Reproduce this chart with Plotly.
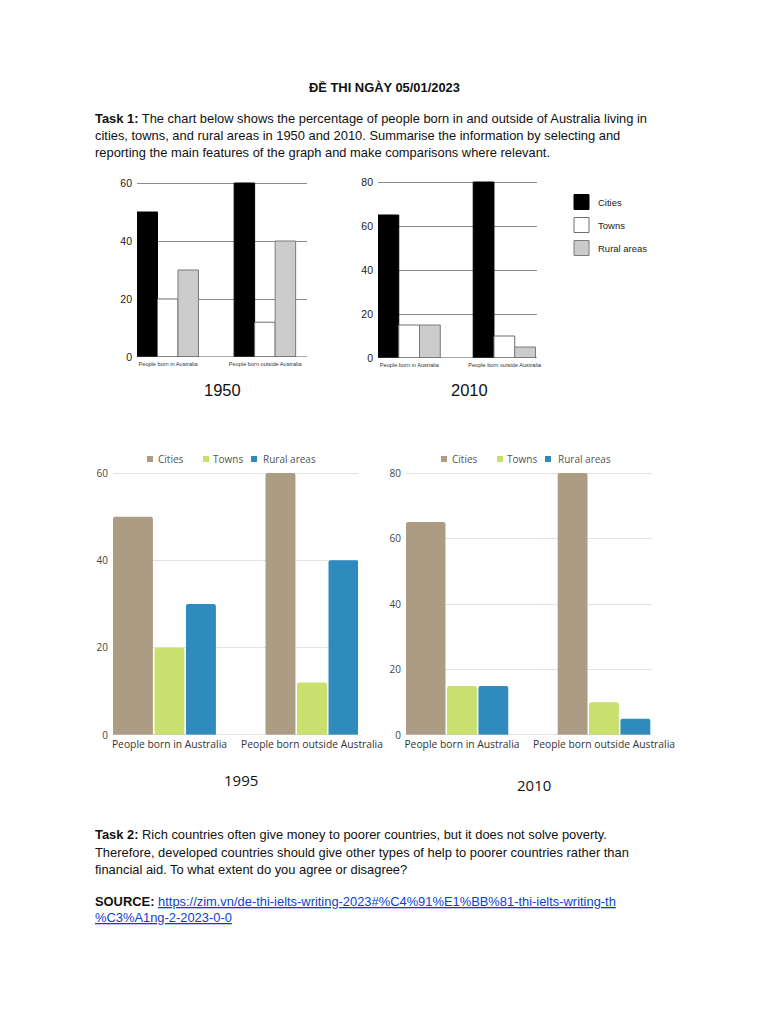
import plotly.graph_objects as go

W, H = 768, 1024
def px(x): return x / W
def py(y): return 1 - y / H

# ---------------- data ----------------
categories = ["People born in Australia", "People born outside Australia"]
series_names = ["Cities", "Towns", "Rural areas"]

cities_1950 = [50, 60]
towns_1950 = [20, 12]
rural_1950 = [30, 40]

cities_2010_bw = [65, 80]
towns_2010_bw = [15, 10]
rural_2010_bw = [15, 5]

cities_1995 = [50, 60]
towns_1995 = [20, 12]
rural_1995 = [30, 40]

cities_2010 = [65, 80]
towns_2010 = [15, 10]
rural_2010 = [15, 5]

bw_ticks_1950 = [0, 20, 40, 60]
bw_ticks_2010 = [0, 20, 40, 60, 80]
col_ticks_1995 = [0, 20, 40, 60]
col_ticks_2010 = [0, 20, 40, 60, 80]

fig = go.Figure()

# ---------------- BW charts ----------------
bw_fill = {"Cities": "#000000", "Towns": "#ffffff", "Rural areas": "#cccccc"}
bw_line = {"Cities": "#000000", "Towns": "#6e6e6e", "Rural areas": "#7a7a7a"}

def add_bw(vals, ax, width, offsets):
    for name, v, off in zip(series_names, vals, offsets):
        fig.add_trace(go.Bar(
            x=categories, y=v, name=name, showlegend=False,
            xaxis="x" + ax, yaxis="y" + ax,
            width=width, offset=off,
            marker=dict(color=bw_fill[name], line=dict(color=bw_line[name], width=1)),
        ))

add_bw([cities_1950, towns_1950, rural_1950], "", 0.211, [-0.32, -0.109, 0.102])
add_bw([cities_2010_bw, towns_2010_bw, rural_2010_bw], "2", 0.218, [-0.33, -0.112, 0.106])

# ---------------- colored charts ----------------
col_fill = {"Cities": "#ad9c84", "Towns": "#c9df6e", "Rural areas": "#2f8bbd"}

def add_col(vals, ax, first_off, first_w):
    offs = [-0.326, -0.105, 0.116]
    for i, (name, v) in enumerate(zip(series_names, vals)):
        if i == 0:
            off = [first_off, offs[0]]
            wid = [first_w, 0.21]
        else:
            off = offs[i]
            wid = 0.21
        fig.add_trace(go.Bar(
            x=categories, y=v, name=name, showlegend=False,
            xaxis="x" + ax, yaxis="y" + ax,
            width=wid, offset=off,
            marker=dict(color=col_fill[name], line=dict(width=0), cornerradius=2),
        ))

add_col([cities_1995, towns_1995, rural_1995], "3", -0.396, 0.28)
add_col([cities_2010, towns_2010, rural_2010], "4", -0.394, 0.278)

# ---------------- axes ----------------
EXT = 1.01  # tiny headroom so the top gridline is drawn

def xax(x0, x1, rng, font):
    return dict(domain=[px(x0), px(x1)], range=rng, type="category",
                showgrid=False, showline=False, zeroline=False,
                ticks="", tickfont=font, fixedrange=True, ticklabelstandoff=2)

def yax(anchor, y_top, y_bottom, top, tickvals, font, gridcolor):
    top_px = y_bottom - (y_bottom - y_top) * EXT
    return dict(domain=[py(y_bottom), py(top_px)], range=[0, top * EXT], anchor=anchor,
                tickvals=tickvals, showgrid=True, gridcolor=gridcolor, gridwidth=1,
                zeroline=False, showline=False, ticks="", tickfont=font,
                fixedrange=True, ticklabelstandoff=4)

bw_tick_font = dict(family="Liberation Sans", size=10.5, color="#222222")
bw_cat_font = dict(family="Liberation Sans", size=5.6, color="#333333")
col_tick_font = dict(family="Open Sans", size=10, color="#444444")
col_cat_font = dict(family="Open Sans", size=10.3, color="#333333")

fig.update_layout(
    width=W, height=H, margin=dict(l=0, r=0, t=0, b=0, autoexpand=False),
    paper_bgcolor="white", plot_bgcolor="rgba(0,0,0,0)",
    barmode="overlay", showlegend=False,
    xaxis=xax(137, 307, [-0.32, 1.43], bw_cat_font) | dict(anchor="y"),
    yaxis=yax("x", 183, 357, 60, bw_ticks_1950, bw_tick_font, "#8a8a8a"),
    xaxis2=xax(378, 537, [-0.33, 1.34], bw_cat_font) | dict(anchor="y2"),
    yaxis2=yax("x2", 182, 358, 80, bw_ticks_2010, bw_tick_font, "#8a8a8a"),
    xaxis3=xax(113, 358, [-0.396, 1.323], col_cat_font) | dict(anchor="y3"),
    yaxis3=yax("x3", 473, 735, 60, col_ticks_1995, col_tick_font, "#e2e2e2"),
    xaxis4=xax(406, 652, [-0.394, 1.338], col_cat_font) | dict(anchor="y4"),
    yaxis4=yax("x4", 473, 735, 80, col_ticks_2010, col_tick_font, "#e2e2e2"),
)

shapes = []
for ax, col, w in [("", "#555555", 1.2), ("2", "#555555", 1.2), ("3", "#c8c8c8", 1), ("4", "#c8c8c8", 1)]:
    shapes.append(dict(type="line", xref="x%s domain" % ax, yref="y" + ax, x0=0, x1=1, y0=0, y1=0,
                       line=dict(color=col, width=w)))

annotations = []
# BW legend
for i, name in enumerate(series_names):
    yc = 202 + 23 * i
    shapes.append(dict(type="rect", xref="paper", yref="paper",
                       x0=px(574), x1=px(589), y0=py(yc + 7.5), y1=py(yc - 7.5),
                       fillcolor=bw_fill[name], line=dict(color=bw_line[name], width=1)))
    annotations.append(dict(xref="paper", yref="paper", x=px(596), y=py(yc), text=name,
                            showarrow=False, xanchor="left", yanchor="middle",
                            font=dict(family="Liberation Sans", size=9.5, color="#222222")))

# colored legends
def col_legend(sq_x, txt_x):
    for name, sx, tx in zip(series_names, sq_x, txt_x):
        shapes.append(dict(type="rect", xref="paper", yref="paper",
                           x0=px(sx - 3), x1=px(sx + 3), y0=py(462), y1=py(456),
                           fillcolor=col_fill[name], line=dict(width=0)))
        annotations.append(dict(xref="paper", yref="paper", x=px(tx), y=py(459), text=name,
                                showarrow=False, xanchor="left", yanchor="middle",
                                font=dict(family="Open Sans", size=10, color="#555555")))

col_legend([150, 206, 254], [156, 211, 261])
col_legend([444, 500, 548], [450, 505, 556])

# chart titles
for t, x, y, fam, sz in [("1950", 222, 390, "Liberation Sans", 16.5),
                         ("2010", 469, 390, "Liberation Sans", 16.5),
                         ("1995", 241, 780, "Open Sans", 15),
                         ("2010", 534, 785, "Open Sans", 15)]:
    annotations.append(dict(xref="paper", yref="paper", x=px(x), y=py(y), text=t,
                            showarrow=False, xanchor="center", yanchor="middle",
                            font=dict(family=fam, size=sz, color="#111111")))

# document text
body = dict(family="Liberation Sans", size=12.9, color="#111111")
def line(txt, y, x=93, anchor="left"):
    annotations.append(dict(xref="paper", yref="paper", x=px(x), y=py(y), text=txt,
                            showarrow=False, xanchor=anchor, yanchor="middle", font=body))

line("<b>ĐỀ THI NGÀY 05/01/2023</b>", 87, x=384, anchor="center")
line("<b>Task 1:</b> The chart below shows the percentage of people born in and outside of Australia living in", 118)
line("cities, towns, and rural areas in 1950 and 2010. Summarise the information by selecting and", 135)
line("reporting the main features of the graph and make comparisons where relevant.", 152)

line("<b>Task 2:</b> Rich countries often give money to poorer countries, but it does not solve poverty.", 834)
line("Therefore, developed countries should give other types of help to poorer countries rather than", 852)
line("financial aid. To what extent do you agree or disagree?", 869)
link = "#0b3fd6"
line("<b>SOURCE:</b> <span style='color:%s'><u>https://zim.vn/de-thi-ielts-writing-2023#%%C4%%91%%E1%%BB%%81-thi-ielts-writing-th</u></span>" % link, 901)
line("<span style='color:%s'><u>%%C3%%A1ng-2-2023-0-0</u></span>" % link, 917)

fig.update_layout(shapes=shapes, annotations=annotations)
fig.write_html("out.html", config={"displayModeBar": False},
               post_script="document.body.style.margin='0';document.body.style.overflow='hidden';")
